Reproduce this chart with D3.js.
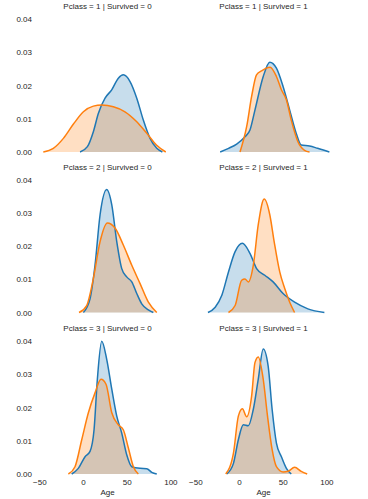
<!DOCTYPE html>
<html>
<head>
<meta charset="utf-8">
<script src="https://cdn.jsdelivr.net/npm/d3@7"></script>
<style>
  body { margin: 0; background: #fff; }
  text { font-family: "Liberation Sans", Arial, sans-serif; }
</style>
</head>
<body>
<div id="chart"></div>
<script>
// [age, density], one array per curve
const p1s0Male = [[-3.4,0],[5,0.0016],[11.8,0.0061],[17.5,0.0116],[25.2,0.0162],[32.8,0.0187],[40.4,0.0222],[46.1,0.0232],[53.8,0.0212],[61.5,0.0162],[69,0.0096],[76.7,0.0041],[84.4,0.0011],[90.8,0]];
const p1s0Female = [[-45.5,0],[-34,0.0011],[-22.5,0.0041],[-11,0.0084],[0.4,0.0121],[11.8,0.0138],[21.4,0.0141],[34.7,0.0136],[48,0.0121],[61.5,0.0091],[73,0.0056],[84,0.0021],[94.7,0]];
const p1s1Male = [[-21.6,0],[-12,0.0011],[-2.7,0.0024],[6.8,0.0046],[12.5,0.0066],[18.2,0.0126],[27.7,0.0227],[35.2,0.027],[42.8,0.0252],[50.4,0.0197],[58,0.0126],[65.5,0.0056],[71.2,0.0021],[80.7,0.0018],[90,0.0011],[103.4,0]];
const p1s1Female = [[1.1,0],[8.7,0.0076],[14.4,0.0167],[20,0.0232],[25.8,0.0244],[33.3,0.0254],[35.5,0.0255],[42.8,0.0227],[48.5,0.0187],[54.2,0.0157],[59.8,0.0096],[67.4,0.0031],[75,0.0005],[80.7,0]];
const p2s0Male = [[0.4,0],[8,0.0041],[13.7,0.0142],[19.5,0.0294],[27.1,0.037],[32.9,0.0324],[38.6,0.0213],[44.3,0.0132],[50,0.0107],[55.8,0.0092],[61.5,0.0057],[67.2,0.0026],[74.8,0.0008],[80.5,0]];
const p2s0Female = [[-4.6,0],[4.2,0.0021],[11.8,0.0102],[19.5,0.0213],[27.8,0.0269],[36.6,0.0254],[46.1,0.0203],[55.8,0.0142],[65.3,0.0087],[74.8,0.0031],[84.4,0]];
const p2s1Male = [[-35.6,0],[-27.3,0.0016],[-19.7,0.0052],[-12.1,0.0122],[-4.5,0.0183],[3.8,0.0208],[12.5,0.0178],[20.1,0.0132],[29.5,0.0112],[39,0.0092],[50.4,0.0057],[63.6,0.0031],[78.8,0.0011],[97.7,0]];
const p2s1Female = [[-12.1,0],[-4.5,0.0021],[3,0.0097],[6.8,0.0101],[10.6,0.0092],[16.3,0.0142],[22,0.0264],[28.8,0.0341],[35.2,0.0294],[40.2,0.0213],[46.6,0.0122],[52.3,0.0072],[58,0.0031],[63.6,0]];
const p3s0Male = [[-13,0],[-5.4,0.0017],[2.3,0.0052],[8,0.0068],[12.6,0.0133],[16.4,0.0285],[21.4,0.0399],[27.1,0.0345],[32.9,0.0255],[38.6,0.0174],[44.3,0.0123],[50,0.0058],[55.8,0.0022],[65.3,0.0017],[72.9,0.0016],[78.7,0.0005],[84.4,0]];
const p3s0Female = [[-16.8,0],[-9.2,0.0022],[-1.5,0.0103],[6.1,0.0184],[13.7,0.0244],[20.6,0.0285],[26.3,0.027],[32.9,0.0184],[40.4,0.0148],[46.1,0.0133],[51.9,0.0078],[57.6,0.0022],[63.3,0]];
const p3s1Male = [[-14,0],[-6.4,0.0032],[-0.8,0.0103],[4.9,0.0148],[10.6,0.0145],[16.3,0.0194],[22,0.0285],[27.7,0.0376],[33.3,0.0325],[37.9,0.0194],[42.8,0.0093],[48.5,0.0052],[54.2,0.0017],[59.8,0]];
const p3s1Female = [[-15.2,0],[-6.4,0.0063],[-0.8,0.0174],[3.8,0.0196],[8.7,0.0172],[14.4,0.0234],[18.2,0.0335],[22,0.0352],[27.7,0.0285],[32.6,0.0174],[37.9,0.0073],[42.8,0.0022],[50.4,0.0006],[56.1,0.0008],[63.6,0.002],[71.2,0.0008],[78,0]];

const pclasses = [1, 2, 3];
const survived = [0, 1];
const xTicks = [-50, 0, 50, 100];
const yTicks = [0, 0.01, 0.02, 0.03, 0.04];

const curves = [
  [[p1s0Male, p1s0Female], [p1s1Male, p1s1Female]],
  [[p2s0Male, p2s0Female], [p2s1Male, p2s1Female]],
  [[p3s0Male, p3s0Female], [p3s1Male, p3s1Female]]
];

const width = 368, height = 499;
const colLeft = [35, 191], plotW = 145;
const rowBottom = [152, 312.5, 474], pxPerUnit = 133 / 0.04;
const hueColors = ["#1f77b4", "#ff7f0e"];

const svg = d3.select("#chart").append("svg")
  .attr("width", width).attr("height", height);

pclasses.forEach((pc, r) => {
  survived.forEach((sv, c) => {
    const x = d3.scaleLinear().domain([-55, 111]).range([colLeft[c], colLeft[c] + plotW]);
    const y = d3.scaleLinear().domain([0, 0.04]).range([rowBottom[r], rowBottom[r] - 0.04 * pxPerUnit]);

    const g = svg.append("g");

    const area = d3.area().x(d => x(d[0])).y0(y(0)).y1(d => y(d[1])).curve(d3.curveMonotoneX);
    const line = d3.line().x(d => x(d[0])).y(d => y(d[1])).curve(d3.curveMonotoneX);

    // shaded areas first, outlines on top
    curves[r][c].forEach((pts, i) => {
      g.append("path").attr("d", area(pts))
        .attr("fill", hueColors[i]).attr("fill-opacity", 0.25);
    });
    curves[r][c].forEach((pts, i) => {
      g.append("path").attr("d", line(pts))
        .attr("fill", "none").attr("stroke", hueColors[i]).attr("stroke-width", 1.5);
    });

    svg.append("text")
      .attr("x", (colLeft[c] + colLeft[c] + plotW) / 2)
      .attr("y", rowBottom[r] - 143)
      .attr("text-anchor", "middle")
      .attr("font-size", "8px").attr("fill", "#262626")
      .text(`Pclass = ${pc} | Survived = ${sv}`);

    if (c === 0) {
      const ya = svg.append("g")
        .attr("transform", `translate(${colLeft[c] - 3},0)`)
        .call(d3.axisLeft(y).tickValues(yTicks).tickFormat(d3.format(".2f")).tickSize(0).tickPadding(0));
      ya.select(".domain").remove();
      ya.selectAll("text").attr("font-size", "8px").attr("fill", "#262626")
        .attr("font-family", "Liberation Sans, Arial, sans-serif");
    }
    if (r === 2) {
      const xa = svg.append("g")
        .attr("transform", `translate(0,${rowBottom[r] + 5})`)
        .call(d3.axisBottom(x).tickValues(xTicks).tickSize(0).tickPadding(0));
      xa.select(".domain").remove();
      xa.selectAll("text").attr("font-size", "8px").attr("fill", "#262626")
        .attr("font-family", "Liberation Sans, Arial, sans-serif");
      svg.append("text")
        .attr("x", (colLeft[c] + colLeft[c] + plotW) / 2)
        .attr("y", 495)
        .attr("text-anchor", "middle")
        .attr("font-size", "8px").attr("fill", "#262626")
        .text("Age");
    }
  });
});
</script>
</body>
</html>
